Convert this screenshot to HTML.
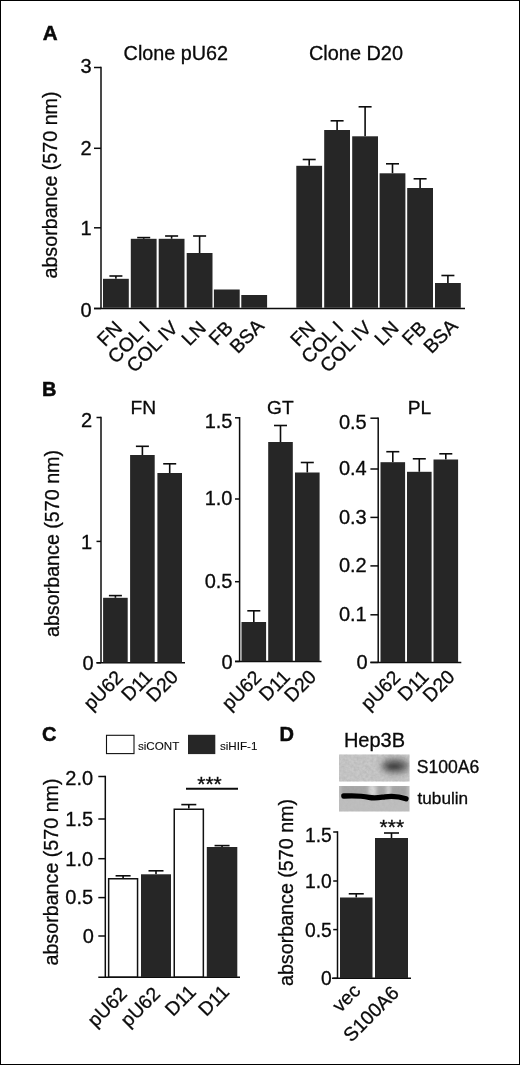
<!DOCTYPE html>
<html><head><meta charset="utf-8"><title>Figure</title>
<style>
html,body{margin:0;padding:0;background:#fff;}
body{width:520px;height:1065px;overflow:hidden;position:relative;}
svg{display:block;position:absolute;left:0;top:0;}
svg text{font-family:"Liberation Sans", Arial, Helvetica, sans-serif;fill:#0a0a0a;stroke:#0a0a0a;stroke-width:0.3px;}
.frame{position:absolute;left:0;top:0;width:518px;height:1063px;border:1px solid #000;}
</style></head><body>
<svg width="520" height="1065" viewBox="0 0 520 1065">
<text x="42.8" y="40.2" font-size="20.6" text-anchor="start" font-weight="bold" style="stroke-width:0.5px">A</text>
<text x="123.6" y="60" font-size="19.8" text-anchor="start">Clone pU62</text>
<text x="309" y="60" font-size="19.9" text-anchor="start">Clone D20</text>
<text transform="translate(57.4,185) rotate(-90)" font-size="19.7" text-anchor="middle">absorbance (570 nm)</text>
<line x1="101" y1="66.75" x2="101" y2="308.5" stroke="#0c0c0c" stroke-width="1.5"/>
<line x1="94" y1="67.5" x2="101" y2="67.5" stroke="#0c0c0c" stroke-width="1.5"/>
<text x="91.5" y="73.25999999999999" font-size="20" text-anchor="end">3</text>
<line x1="94" y1="148.3" x2="101" y2="148.3" stroke="#0c0c0c" stroke-width="1.5"/>
<text x="91.5" y="154.86" font-size="20" text-anchor="end">2</text>
<line x1="94" y1="227.8" x2="101" y2="227.8" stroke="#0c0c0c" stroke-width="1.5"/>
<text x="91.5" y="234.96" font-size="20" text-anchor="end">1</text>
<line x1="94" y1="308.5" x2="101" y2="308.5" stroke="#0c0c0c" stroke-width="1.5"/>
<text x="91.5" y="316.66" font-size="20" text-anchor="end">0</text>
<line x1="94" y1="308.5" x2="465" y2="308.5" stroke="#0c0c0c" stroke-width="1.5"/>
<line x1="115.9" y1="278.8" x2="115.9" y2="276" stroke="#0c0c0c" stroke-width="1.6"/>
<line x1="109.4" y1="276" x2="122.4" y2="276" stroke="#0c0c0c" stroke-width="1.6"/>
<rect x="103.00" y="278.80" width="25.80" height="29.00" fill="#262626"/>
<line x1="143.70000000000002" y1="238.8" x2="143.70000000000002" y2="237.6" stroke="#0c0c0c" stroke-width="1.6"/>
<line x1="137.20000000000002" y1="237.6" x2="150.20000000000002" y2="237.6" stroke="#0c0c0c" stroke-width="1.6"/>
<rect x="130.80" y="238.80" width="25.80" height="69.00" fill="#262626"/>
<line x1="171.6" y1="238.8" x2="171.6" y2="236" stroke="#0c0c0c" stroke-width="1.6"/>
<line x1="165.1" y1="236" x2="178.1" y2="236" stroke="#0c0c0c" stroke-width="1.6"/>
<rect x="158.70" y="238.80" width="25.80" height="69.00" fill="#262626"/>
<line x1="199.6" y1="253" x2="199.6" y2="236" stroke="#0c0c0c" stroke-width="1.6"/>
<line x1="193.1" y1="236" x2="206.1" y2="236" stroke="#0c0c0c" stroke-width="1.6"/>
<rect x="186.70" y="253.00" width="25.80" height="54.80" fill="#262626"/>
<rect x="213.90" y="289.50" width="25.80" height="18.30" fill="#262626"/>
<rect x="241.30" y="295.00" width="25.80" height="12.80" fill="#262626"/>
<line x1="309.2" y1="165.8" x2="309.2" y2="159.5" stroke="#0c0c0c" stroke-width="1.6"/>
<line x1="302.7" y1="159.5" x2="315.7" y2="159.5" stroke="#0c0c0c" stroke-width="1.6"/>
<rect x="296.30" y="165.80" width="25.80" height="142.00" fill="#262626"/>
<line x1="337.09999999999997" y1="130" x2="337.09999999999997" y2="120.8" stroke="#0c0c0c" stroke-width="1.6"/>
<line x1="330.59999999999997" y1="120.8" x2="343.59999999999997" y2="120.8" stroke="#0c0c0c" stroke-width="1.6"/>
<rect x="324.20" y="130.00" width="25.80" height="177.80" fill="#262626"/>
<line x1="365.09999999999997" y1="136.3" x2="365.09999999999997" y2="106.8" stroke="#0c0c0c" stroke-width="1.6"/>
<line x1="358.59999999999997" y1="106.8" x2="371.59999999999997" y2="106.8" stroke="#0c0c0c" stroke-width="1.6"/>
<rect x="352.20" y="136.30" width="25.80" height="171.50" fill="#262626"/>
<line x1="392.5" y1="173.3" x2="392.5" y2="163.8" stroke="#0c0c0c" stroke-width="1.6"/>
<line x1="386.0" y1="163.8" x2="399.0" y2="163.8" stroke="#0c0c0c" stroke-width="1.6"/>
<rect x="379.60" y="173.30" width="25.80" height="134.50" fill="#262626"/>
<line x1="420.09999999999997" y1="188" x2="420.09999999999997" y2="178.8" stroke="#0c0c0c" stroke-width="1.6"/>
<line x1="413.59999999999997" y1="178.8" x2="426.59999999999997" y2="178.8" stroke="#0c0c0c" stroke-width="1.6"/>
<rect x="407.20" y="188.00" width="25.80" height="119.80" fill="#262626"/>
<line x1="447.9" y1="283" x2="447.9" y2="275.5" stroke="#0c0c0c" stroke-width="1.6"/>
<line x1="441.4" y1="275.5" x2="454.4" y2="275.5" stroke="#0c0c0c" stroke-width="1.6"/>
<rect x="435.00" y="283.00" width="25.80" height="24.80" fill="#262626"/>
<text transform="translate(123.35,329.1) rotate(-45)" font-size="19.4" text-anchor="end">FN</text>
<text transform="translate(151.15,329.1) rotate(-45)" font-size="19.4" text-anchor="end">COL I</text>
<text transform="translate(179.04999999999998,329.1) rotate(-45)" font-size="19.4" text-anchor="end">COL IV</text>
<text transform="translate(207.04999999999998,329.1) rotate(-45)" font-size="19.4" text-anchor="end">LN</text>
<text transform="translate(234.25,329.1) rotate(-45)" font-size="19.4" text-anchor="end">FB</text>
<text transform="translate(265.15000000000003,327.1) rotate(-45)" font-size="19.4" text-anchor="end">BSA</text>
<text transform="translate(316.65000000000003,329.1) rotate(-45)" font-size="19.4" text-anchor="end">FN</text>
<text transform="translate(344.55,329.1) rotate(-45)" font-size="19.4" text-anchor="end">COL I</text>
<text transform="translate(372.55,329.1) rotate(-45)" font-size="19.4" text-anchor="end">COL IV</text>
<text transform="translate(399.95000000000005,329.1) rotate(-45)" font-size="19.4" text-anchor="end">LN</text>
<text transform="translate(427.55,329.1) rotate(-45)" font-size="19.4" text-anchor="end">FB</text>
<text transform="translate(458.85,327.1) rotate(-45)" font-size="19.4" text-anchor="end">BSA</text>
<text x="42" y="395.6" font-size="20" text-anchor="start" font-weight="bold" style="stroke-width:0.5px">B</text>
<text transform="translate(58.9,543.5) rotate(-90)" font-size="19.7" text-anchor="middle">absorbance (570 nm)</text>
<text x="143.3" y="414.3" font-size="19.2" text-anchor="middle">FN</text>
<line x1="101" y1="416.75" x2="101" y2="662.8" stroke="#0c0c0c" stroke-width="1.5"/>
<line x1="96.5" y1="417.5" x2="101" y2="417.5" stroke="#0c0c0c" stroke-width="1.5"/>
<text x="92.0" y="426.76000000000005" font-size="20" text-anchor="end">2</text>
<line x1="96.5" y1="541.4" x2="101" y2="541.4" stroke="#0c0c0c" stroke-width="1.5"/>
<text x="92.0" y="548.56" font-size="20" text-anchor="end">1</text>
<line x1="96.5" y1="662.8" x2="101" y2="662.8" stroke="#0c0c0c" stroke-width="1.5"/>
<text x="93.7" y="669.9599999999999" font-size="20" text-anchor="end">0</text>
<line x1="96.5" y1="662.8" x2="185" y2="662.8" stroke="#0c0c0c" stroke-width="1.5"/>
<line x1="115.39999999999999" y1="597.8" x2="115.39999999999999" y2="595.6" stroke="#0c0c0c" stroke-width="1.6"/>
<line x1="108.89999999999999" y1="595.6" x2="121.89999999999999" y2="595.6" stroke="#0c0c0c" stroke-width="1.6"/>
<rect x="103.10" y="597.80" width="24.60" height="64.70" fill="#262626"/>
<line x1="142.4" y1="455" x2="142.4" y2="446.3" stroke="#0c0c0c" stroke-width="1.6"/>
<line x1="135.9" y1="446.3" x2="148.9" y2="446.3" stroke="#0c0c0c" stroke-width="1.6"/>
<rect x="130.10" y="455.00" width="24.60" height="207.50" fill="#262626"/>
<line x1="169.70000000000002" y1="473" x2="169.70000000000002" y2="463.8" stroke="#0c0c0c" stroke-width="1.6"/>
<line x1="163.20000000000002" y1="463.8" x2="176.20000000000002" y2="463.8" stroke="#0c0c0c" stroke-width="1.6"/>
<rect x="157.40" y="473.00" width="24.60" height="189.50" fill="#262626"/>
<text transform="translate(124.25,678.5) rotate(-45)" font-size="19.4" text-anchor="end">pU62</text>
<text transform="translate(153.45,678.2) rotate(-45)" font-size="19.4" text-anchor="end">D11</text>
<text transform="translate(179.45,678) rotate(-45)" font-size="19.4" text-anchor="end">D20</text>
<text x="280.3" y="414.3" font-size="19.2" text-anchor="middle">GT</text>
<line x1="239.6" y1="417.05" x2="239.6" y2="661.5" stroke="#0c0c0c" stroke-width="1.5"/>
<line x1="235.0" y1="417.8" x2="239.6" y2="417.8" stroke="#0c0c0c" stroke-width="1.5"/>
<text x="232.5" y="428.06000000000006" font-size="20" text-anchor="end">1.5</text>
<line x1="235.0" y1="499" x2="239.6" y2="499" stroke="#0c0c0c" stroke-width="1.5"/>
<text x="232.5" y="504.96000000000004" font-size="20" text-anchor="end">1.0</text>
<line x1="235.0" y1="581.7" x2="239.6" y2="581.7" stroke="#0c0c0c" stroke-width="1.5"/>
<text x="232.5" y="588.0600000000001" font-size="20" text-anchor="end">0.5</text>
<line x1="235.0" y1="661.4" x2="239.6" y2="661.4" stroke="#0c0c0c" stroke-width="1.5"/>
<text x="232.5" y="669.4599999999999" font-size="20" text-anchor="end">0</text>
<line x1="235" y1="661.4" x2="321.5" y2="661.4" stroke="#0c0c0c" stroke-width="1.5"/>
<line x1="253.8" y1="622" x2="253.8" y2="610.8" stroke="#0c0c0c" stroke-width="1.6"/>
<line x1="247.3" y1="610.8" x2="260.3" y2="610.8" stroke="#0c0c0c" stroke-width="1.6"/>
<rect x="241.50" y="622.00" width="24.60" height="39.20" fill="#262626"/>
<line x1="280.5" y1="442" x2="280.5" y2="425.5" stroke="#0c0c0c" stroke-width="1.6"/>
<line x1="274.0" y1="425.5" x2="287.0" y2="425.5" stroke="#0c0c0c" stroke-width="1.6"/>
<rect x="268.20" y="442.00" width="24.60" height="219.20" fill="#262626"/>
<line x1="307.3" y1="472.5" x2="307.3" y2="462.5" stroke="#0c0c0c" stroke-width="1.6"/>
<line x1="300.8" y1="462.5" x2="313.8" y2="462.5" stroke="#0c0c0c" stroke-width="1.6"/>
<rect x="295.00" y="472.50" width="24.60" height="188.70" fill="#262626"/>
<text transform="translate(262.55,678.5) rotate(-45)" font-size="19.4" text-anchor="end">pU62</text>
<text transform="translate(291.15,678.2) rotate(-45)" font-size="19.4" text-anchor="end">D11</text>
<text transform="translate(317.45,678) rotate(-45)" font-size="19.4" text-anchor="end">D20</text>
<text x="419.5" y="414.3" font-size="19.2" text-anchor="middle">PL</text>
<line x1="378.2" y1="417.45" x2="378.2" y2="662.4" stroke="#0c0c0c" stroke-width="1.5"/>
<line x1="370.4" y1="418.2" x2="378.2" y2="418.2" stroke="#0c0c0c" stroke-width="1.5"/>
<text x="366.7" y="429.36" font-size="20" text-anchor="end">0.5</text>
<line x1="370.4" y1="469" x2="378.2" y2="469" stroke="#0c0c0c" stroke-width="1.5"/>
<text x="366.7" y="475.06" font-size="20" text-anchor="end">0.4</text>
<line x1="370.4" y1="517.4" x2="378.2" y2="517.4" stroke="#0c0c0c" stroke-width="1.5"/>
<text x="366.7" y="523.56" font-size="20" text-anchor="end">0.3</text>
<line x1="370.4" y1="565.9" x2="378.2" y2="565.9" stroke="#0c0c0c" stroke-width="1.5"/>
<text x="366.7" y="572.06" font-size="20" text-anchor="end">0.2</text>
<line x1="370.4" y1="614.8" x2="378.2" y2="614.8" stroke="#0c0c0c" stroke-width="1.5"/>
<text x="366.7" y="620.9599999999999" font-size="20" text-anchor="end">0.1</text>
<line x1="370.4" y1="662.4" x2="378.2" y2="662.4" stroke="#0c0c0c" stroke-width="1.5"/>
<text x="367.5" y="669.06" font-size="20" text-anchor="end">0</text>
<line x1="370.4" y1="662.4" x2="461.3" y2="662.4" stroke="#0c0c0c" stroke-width="1.5"/>
<line x1="392.8" y1="462.2" x2="392.8" y2="451.7" stroke="#0c0c0c" stroke-width="1.6"/>
<line x1="386.3" y1="451.7" x2="399.3" y2="451.7" stroke="#0c0c0c" stroke-width="1.6"/>
<rect x="380.50" y="462.20" width="24.60" height="200.00" fill="#262626"/>
<line x1="419.3" y1="471.8" x2="419.3" y2="458.8" stroke="#0c0c0c" stroke-width="1.6"/>
<line x1="412.8" y1="458.8" x2="425.8" y2="458.8" stroke="#0c0c0c" stroke-width="1.6"/>
<rect x="407.00" y="471.80" width="24.60" height="190.40" fill="#262626"/>
<line x1="445.8" y1="459.5" x2="445.8" y2="453.8" stroke="#0c0c0c" stroke-width="1.6"/>
<line x1="439.3" y1="453.8" x2="452.3" y2="453.8" stroke="#0c0c0c" stroke-width="1.6"/>
<rect x="433.50" y="459.50" width="24.60" height="202.70" fill="#262626"/>
<text transform="translate(401.55,678.5) rotate(-45)" font-size="19.4" text-anchor="end">pU62</text>
<text transform="translate(429.95,678.2) rotate(-45)" font-size="19.4" text-anchor="end">D11</text>
<text transform="translate(455.95,678) rotate(-45)" font-size="19.4" text-anchor="end">D20</text>
<text x="42" y="741" font-size="20" text-anchor="start" font-weight="bold" style="stroke-width:0.5px">C</text>
<text transform="translate(57.9,872) rotate(-90)" font-size="19.7" text-anchor="middle">absorbance (570 nm)</text>
<rect x="106.50" y="735.30" width="27.50" height="18.30" fill="#fff" stroke="#111" stroke-width="1.1"/>
<rect x="188.00" y="734.80" width="27.30" height="19.30" fill="#262626"/>
<text x="138" y="749.5" font-size="11.6" text-anchor="start" style="stroke-width:0.1px">siCONT</text>
<text x="220" y="749.5" font-size="11.6" text-anchor="start" style="stroke-width:0.1px">siHIF-1</text>
<line x1="105.3" y1="775.75" x2="105.3" y2="977.3" stroke="#0c0c0c" stroke-width="1.5"/>
<line x1="98.3" y1="776.5" x2="105.3" y2="776.5" stroke="#0c0c0c" stroke-width="1.5"/>
<text x="93.1" y="784.66" font-size="20" text-anchor="end">2.0</text>
<line x1="98.3" y1="819" x2="105.3" y2="819" stroke="#0c0c0c" stroke-width="1.5"/>
<text x="93.1" y="825.56" font-size="20" text-anchor="end">1.5</text>
<line x1="98.3" y1="858.7" x2="105.3" y2="858.7" stroke="#0c0c0c" stroke-width="1.5"/>
<text x="93.1" y="865.5600000000001" font-size="20" text-anchor="end">1.0</text>
<line x1="98.3" y1="897.6" x2="105.3" y2="897.6" stroke="#0c0c0c" stroke-width="1.5"/>
<text x="93.1" y="904.06" font-size="20" text-anchor="end">0.5</text>
<line x1="98.3" y1="936" x2="105.3" y2="936" stroke="#0c0c0c" stroke-width="1.5"/>
<text x="93.8" y="942.56" font-size="20" text-anchor="end">0</text>
<line x1="98.3" y1="977.3" x2="240" y2="977.3" stroke="#0c0c0c" stroke-width="1.4"/>
<line x1="123.10000000000001" y1="878" x2="123.10000000000001" y2="875.8" stroke="#0c0c0c" stroke-width="1.6"/>
<line x1="115.60000000000001" y1="875.8" x2="130.60000000000002" y2="875.8" stroke="#0c0c0c" stroke-width="1.6"/>
<rect x="108.65" y="878.75" width="28.90" height="98.25" fill="#fff" stroke="#111" stroke-width="1.5"/>
<line x1="156.0" y1="874.3" x2="156.0" y2="870.8" stroke="#0c0c0c" stroke-width="1.6"/>
<line x1="148.5" y1="870.8" x2="163.5" y2="870.8" stroke="#0c0c0c" stroke-width="1.6"/>
<rect x="141.00" y="874.30" width="30.00" height="102.70" fill="#262626"/>
<line x1="188.8" y1="808.5" x2="188.8" y2="804.6" stroke="#0c0c0c" stroke-width="1.6"/>
<line x1="181.3" y1="804.6" x2="196.3" y2="804.6" stroke="#0c0c0c" stroke-width="1.6"/>
<rect x="174.25" y="809.25" width="29.10" height="167.75" fill="#fff" stroke="#111" stroke-width="1.5"/>
<line x1="222.05" y1="847" x2="222.05" y2="845.6" stroke="#0c0c0c" stroke-width="1.6"/>
<line x1="214.55" y1="845.6" x2="229.55" y2="845.6" stroke="#0c0c0c" stroke-width="1.6"/>
<rect x="206.80" y="847.00" width="30.50" height="130.00" fill="#262626"/>
<line x1="186" y1="788.8" x2="238" y2="788.8" stroke="#0c0c0c" stroke-width="2"/>
<text x="209.5" y="791.2" font-size="21" text-anchor="middle">***</text>
<text transform="translate(128.20000000000002,995.2) rotate(-45)" font-size="19.4" text-anchor="end">pU62</text>
<text transform="translate(161.29999999999998,995.2) rotate(-45)" font-size="19.4" text-anchor="end">pU62</text>
<text transform="translate(197.1,993.2) rotate(-45)" font-size="19.4" text-anchor="end">D11</text>
<text transform="translate(230.4,993.2) rotate(-45)" font-size="19.4" text-anchor="end">D11</text>
<text x="279.5" y="741" font-size="20" text-anchor="start" font-weight="bold" style="stroke-width:0.5px">D</text>
<text transform="translate(293.4,892.5) rotate(-90)" font-size="19.7" text-anchor="middle">absorbance (570 nm)</text>
<text x="374.5" y="747" font-size="20" text-anchor="middle">Hep3B</text>
<text x="416.7" y="773.3" font-size="17.6" text-anchor="start">S100A6</text>
<text x="417.5" y="803.5" font-size="17.2" text-anchor="start">tubulin</text>
<defs>
<filter id="bl" x="-30%" y="-80%" width="160%" height="260%"><feGaussianBlur stdDeviation="0.7"/></filter>
<filter id="bl2" x="-50%" y="-50%" width="200%" height="200%"><feGaussianBlur stdDeviation="3.2"/></filter>
<filter id="bl3" x="-50%" y="-50%" width="200%" height="200%"><feGaussianBlur stdDeviation="1.6"/></filter>
<filter id="noise" x="0" y="0" width="100%" height="100%"><feTurbulence type="fractalNoise" baseFrequency="0.35" numOctaves="2" seed="7" result="n"/><feColorMatrix in="n" type="matrix" values="0 0 0 0 0.45  0 0 0 0 0.45  0 0 0 0 0.45  0.9 0.9 0 0 -0.62"/></filter>
<clipPath id="c1"><rect x="339" y="754.5" width="70.5" height="27"/></clipPath>
<clipPath id="c2"><rect x="339" y="786" width="70.5" height="25.5"/></clipPath>
</defs>
<rect x="339.00" y="754.50" width="70.50" height="27.00" fill="#c9c9c9"/>
<g clip-path="url(#c1)"><rect x="339" y="754.5" width="70.5" height="27" filter="url(#noise)"/><ellipse cx="395" cy="766" rx="13.5" ry="7" fill="#303030" opacity="0.72" filter="url(#bl2)"/><ellipse cx="394" cy="766.5" rx="6" ry="2.5" fill="#2a2a2a" opacity="0.45" filter="url(#bl3)"/></g>
<rect x="339.00" y="786.00" width="70.50" height="25.50" fill="#bfbfbf"/>
<g clip-path="url(#c2)"><g filter="url(#bl3)"><rect x="341" y="785" width="27" height="11" fill="#a4a4a4"/><rect x="377" y="785" width="9" height="11" fill="#a6a6a6"/><rect x="391" y="785" width="16" height="11" fill="#a2a2a2"/><rect x="369.5" y="785" width="6" height="10" fill="#d9d9d9"/><rect x="386.5" y="785" width="4" height="10" fill="#d0d0d0"/></g><rect x="339" y="786" width="70.5" height="25.5" filter="url(#noise)" opacity="0.5"/><path d="M343.8 796 C352 795.6 362 795.8 369 797.3 C375 798.6 379 797.6 385 796.8 C393 795.8 399 796.4 406 798.8" fill="none" stroke="#060606" stroke-width="5.3" stroke-linecap="round" filter="url(#bl)"/></g>
<line x1="337.5" y1="831.25" x2="337.5" y2="978.3" stroke="#0c0c0c" stroke-width="1.5"/>
<line x1="333.2" y1="832" x2="337.5" y2="832" stroke="#0c0c0c" stroke-width="1.5"/>
<text x="331.8" y="842.1094" font-size="19.3" text-anchor="end">1.5</text>
<line x1="333.2" y1="881" x2="337.5" y2="881" stroke="#0c0c0c" stroke-width="1.5"/>
<text x="331.8" y="887.9094" font-size="19.3" text-anchor="end">1.0</text>
<line x1="333.2" y1="929.6" x2="337.5" y2="929.6" stroke="#0c0c0c" stroke-width="1.5"/>
<text x="331.8" y="936.5094" font-size="19.3" text-anchor="end">0.5</text>
<line x1="333.2" y1="978.3" x2="337.5" y2="978.3" stroke="#0c0c0c" stroke-width="1.5"/>
<text x="331.8" y="985.2094" font-size="19.3" text-anchor="end">0</text>
<line x1="332" y1="978.3" x2="411" y2="978.3" stroke="#0c0c0c" stroke-width="1.4"/>
<line x1="356.25" y1="897.5" x2="356.25" y2="893.8" stroke="#0c0c0c" stroke-width="1.6"/>
<line x1="348.75" y1="893.8" x2="363.75" y2="893.8" stroke="#0c0c0c" stroke-width="1.6"/>
<rect x="340.00" y="897.50" width="32.50" height="80.50" fill="#262626"/>
<line x1="391.5" y1="838" x2="391.5" y2="833" stroke="#0c0c0c" stroke-width="1.6"/>
<line x1="384.0" y1="833" x2="399.0" y2="833" stroke="#0c0c0c" stroke-width="1.6"/>
<rect x="375.00" y="838.00" width="33.00" height="140.00" fill="#262626"/>
<text x="391.8" y="834" font-size="21" text-anchor="middle">***</text>
<text transform="translate(361.5,992) rotate(-45)" font-size="19.4" text-anchor="end">vec</text>
<text transform="translate(400.1,994.2) rotate(-45)" font-size="19.4" text-anchor="end">S100A6</text>
</svg>
<div class="frame"></div>
</body></html>
